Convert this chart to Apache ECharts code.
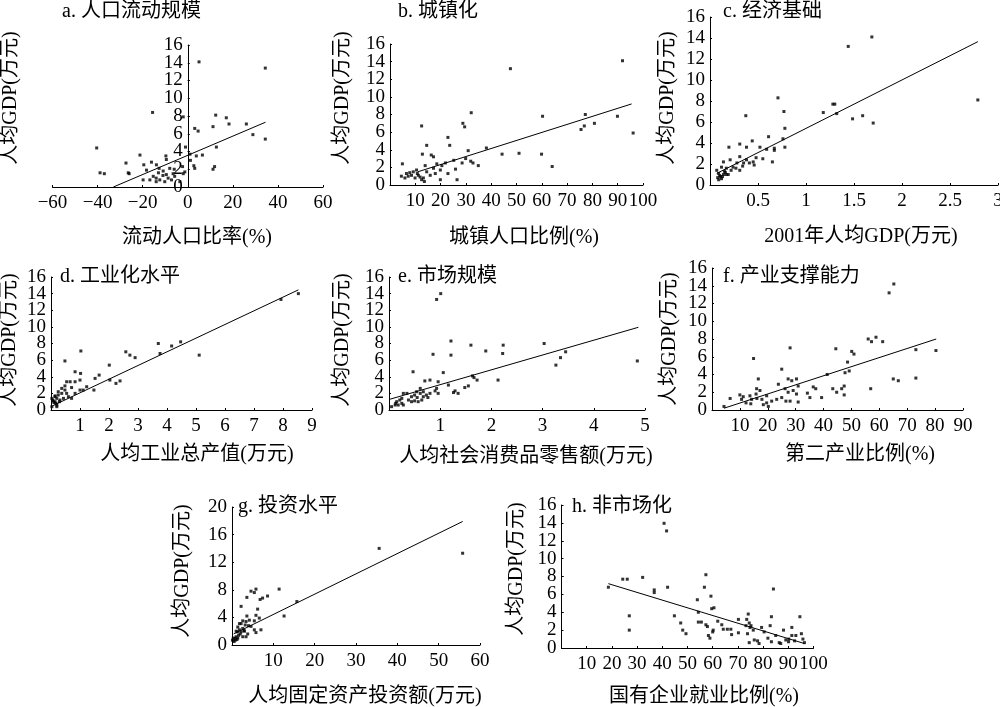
<!DOCTYPE html>
<html><head><meta charset="utf-8">
<script src="https://cdn.jsdelivr.net/npm/echarts@6/dist/echarts.min.js"></script>
<style>html,body{margin:0;padding:0;background:#fff}#c{width:1000px;height:707px}</style>
</head><body><div id="c"></div>
<script>
// ---------------- DATA ----------------
const yName = '人均GDP(万元)';
const titles = ['a. 人口流动规模','b. 城镇化','c. 经济基础','d. 工业化水平','e. 市场规模','f. 产业支撑能力','g. 投资水平','h. 非市场化'];
const xNames = ['流动人口比率(%)','城镇人口比例(%)','2001年人均GDP(万元)','人均工业总产值(万元)','人均社会消费品零售额(万元)','第二产业比例(%)','人均固定资产投资额(万元)','国有企业就业比例(%)'];

const ptsA = [[5,14.1],[34.4,13.4],[-15.6,8.4],[-2,7.9],[12.4,8.1],[17.1,7.8],[18.3,7.1],[11.2,6.8],[26,7.1],[3.1,6.6],[4.6,6.3],[28.9,5.9],[34.4,5.4],[-40.4,4.4],[12.7,4.5],[-1,4.5],[-21.2,3.6],[-9.7,3.5],[1,3.7],[3.8,3.5],[6.5,3.6],[1.2,3.0],[-27.4,2.7],[-16.1,2.8],[-19.5,2.5],[-13.9,2.5],[-9.5,3.1],[2.7,2.4],[3.1,2.1],[11.9,2.3],[11.2,2.0],[-2.3,2.3],[-1.3,1.7],[-38.9,1.6],[-37,1.5],[-26.4,1.6],[-26,1.5],[-18.3,1.9],[-12.7,2.1],[-10.9,1.8],[-8,2.1],[-6.5,1.5],[-15.3,1.2],[-14,1.0],[-19.8,0.8],[-16.8,0.8],[-12.4,0.8],[-10.2,0.6],[-8.7,1.0],[-7.2,0.8],[-5.8,1.2],[-11,1.3],[-9.5,1.4],[-3.5,0.6],[-2,1.5],[-14,0.6],[-13,1.6],[-6,2.0]];
const ptsB = [[91.9,14.1],[47.6,13.2],[32.1,8.2],[28.8,7.0],[29.5,6.6],[12.5,6.7],[60.3,7.8],[77.2,8.0],[76.8,6.7],[75.5,6.3],[80.8,7.0],[89.9,7.8],[96.1,5.9],[22.9,5.4],[23.6,4.5],[14.5,4.5],[38.1,4.2],[30.9,3.9],[44.3,3.5],[51,3.6],[59.9,3.5],[64.1,2.1],[12.8,3.5],[16.3,3.4],[17.2,3.2],[31.9,2.7],[32.8,2.5],[34.9,2.2],[28.5,2.5],[29.9,3.0],[25.2,2.8],[21.9,2.5],[18.5,2.4],[13.9,2.2],[19.9,1.7],[25.9,1.8],[22.9,1.3],[15.9,1.1],[19.9,0.6],[26.5,0.6],[4.9,2.4],[4.5,1.0],[6.5,1.3],[7.2,1.0],[8.5,1.1],[9.9,0.8],[11.2,1.1],[12.5,0.6],[9.2,1.5],[10.5,1.7],[11.9,0.9],[13.2,0.8],[13.6,0.4],[5.9,0.8],[14.5,1.5],[17.2,1.9],[17.9,1.3],[7.8,1.4],[10.8,1.3],[20.5,2.2]];
const ptsC = [[1.686,14.1],[1.44,13.2],[0.708,8.3],[2.79,8.1],[1.28,7.7],[1.3,7.7],[0.77,7.0],[1.18,6.9],[1.32,6.8],[0.373,6.6],[1.59,6.6],[1.485,6.3],[1.7,5.9],[0.78,5.4],[0.76,4.4],[0.61,4.6],[0.44,4.2],[0.31,3.9],[0.78,3.6],[0.197,3.6],[0.38,3.6],[0.52,3.6],[0.59,3.4],[0.67,3.5],[0.67,3.3],[0.31,2.7],[0.38,2.4],[0.45,2.2],[0.48,2.6],[0.55,2.5],[0.65,2.2],[0.46,1.9],[0.35,2.1],[0.28,2.1],[0.21,2.4],[0.14,2.2],[0.12,1.7],[0.17,1.6],[0.24,1.7],[0.31,1.4],[0.07,1.4],[0.09,1.1],[0.11,0.8],[0.14,1.0],[0.15,1.3],[0.17,1.0],[0.12,0.6],[0.09,0.5],[0.13,0.8],[0.19,1.0],[0.22,1.4],[0.27,1.6],[0.34,1.8],[0.41,2.1],[0.1,0.9],[0.16,1.2],[0.08,0.7]];
const ptsD = [[8.53,14.0],[7.93,13.3],[4.47,8.2],[4.16,7.7],[3.7,8.0],[3.76,6.8],[5.11,6.6],[1.03,7.1],[0.48,5.9],[2.58,7.0],[2.72,6.6],[2.9,6.3],[2.01,5.4],[0.83,4.6],[1.02,4.4],[1.66,4.2],[1.52,3.8],[2.03,3.6],[2.24,3.2],[2.38,3.5],[1.48,2.4],[1.23,2.8],[1.11,2.4],[1.0,2.4],[0.83,3.4],[0.66,3.4],[0.54,3.4],[0.71,2.7],[0.48,2.4],[0.37,2.6],[0.25,2.2],[0.54,2.0],[0.83,2.0],[0.71,1.4],[0.14,1.7],[0.2,1.4],[0.31,1.2],[0.14,1.0],[0.2,0.6],[0.03,0.4],[0.14,1.6],[0.25,1.8],[0.03,1.4],[0.17,0.8],[0.29,1.0],[0.43,1.4],[0.6,1.6],[0.37,2.0],[0.05,1.2],[0.2,0.4],[0.48,2.9],[1.0,3.6],[0.1,0.9],[0.08,1.1]];
const ptsE = [[1.01,14.0],[0.93,13.3],[1.21,8.3],[1.6,7.8],[2.23,7.8],[3.03,8.0],[0.86,6.7],[1.21,6.6],[1.89,7.1],[2.22,6.8],[3.45,7.0],[3.35,6.3],[3.26,5.4],[4.85,5.9],[0.47,4.6],[1.06,4.5],[1.63,4.1],[1.66,3.9],[1.72,3.6],[2.13,3.6],[0.8,3.6],[0.7,3.5],[0.96,3.4],[1.16,3.0],[1.55,2.9],[1.48,2.7],[1.29,2.3],[1.35,2.0],[1.26,2.1],[0.93,2.6],[0.9,2.3],[0.96,2.0],[0.61,2.6],[0.67,2.2],[0.73,1.8],[0.76,1.5],[0.54,2.2],[0.5,1.8],[0.44,1.6],[0.35,2.0],[0.28,2.0],[0.25,1.4],[0.38,1.2],[0.44,1.0],[0.5,1.1],[0.57,1.0],[0.64,1.2],[0.15,1.0],[0.12,0.6],[0.18,0.6],[0.25,0.8],[0.05,0.4],[0.21,1.2],[0.13,0.8],[0.28,0.6],[0.67,1.6],[0.55,1.5],[0.61,2.0],[0.8,2.0]];
const ptsF = [[65.2,14.2],[63.5,13.2],[56,8.0],[57.2,7.7],[58.8,8.2],[61.2,7.7],[28,7.0],[44.4,6.9],[73.1,6.8],[80.3,6.7],[50.1,6.6],[50.9,6.3],[14.9,5.8],[48.6,5.4],[49.2,4.4],[47.7,4.2],[25,4.6],[41.3,4.0],[16.6,3.5],[27.3,3.5],[30.3,3.5],[28.6,3.3],[65,3.5],[66.8,3.3],[73.1,3.6],[23.8,2.9],[30.9,2.7],[36.3,2.6],[37.2,2.4],[26.2,2.4],[16,2.4],[17.2,2.2],[27.3,2.0],[29.1,2.2],[30.3,1.8],[34.2,1.9],[43.3,2.4],[44.7,2.0],[46.5,2.4],[47.4,1.7],[56.9,2.4],[47.4,2.7],[39.3,1.4],[35.1,1.4],[30.9,0.9],[28,1.0],[26.5,1.0],[23.2,1.2],[21.4,1.0],[19.6,0.8],[18.4,0.6],[20.2,0.4],[17.9,1.2],[16.1,1.3],[14.2,1.2],[13.6,1.6],[11.2,1.5],[10,1.7],[10.6,1.2],[12.2,0.8],[6.5,1.3],[4.3,0.4],[15.8,1.8],[19.6,1.6],[25,1.4],[13.9,0.7]];
const ptsG = [[35.6,14.0],[55.8,13.3],[11.4,8.1],[15.7,6.3],[12.6,4.2],[5.8,8.1],[4.6,7.8],[5.4,7.6],[7.4,6.8],[8.6,7.1],[6.8,6.6],[3.6,6.9],[2.2,5.6],[6.2,5.2],[5.8,4.3],[6.6,3.9],[3.6,4.2],[5.4,3.5],[2.6,3.5],[3.4,3.4],[7.0,2.2],[4.6,2.7],[5.4,2.2],[5.8,1.8],[2.2,3.1],[1.4,2.6],[1.8,2.2],[2.6,2.4],[3.0,2.0],[2.2,1.9],[1.3,1.9],[1.6,1.4],[1.0,1.2],[0.3,1.0],[0.7,0.97],[0.1,0.7],[0.8,0.7],[1.4,1.0],[2.6,1.2],[3.4,1.2],[2.0,1.6],[3.8,1.6],[3.2,2.9],[4.0,2.8],[2.9,2.1],[1.0,2.0],[1.8,3.1],[4.2,3.6],[0.5,0.5],[1.2,0.8]];
const ptsH = [[40.7,13.95],[41.7,13.1],[18.6,6.8],[24.3,7.7],[26.1,7.7],[32.2,7.9],[36.8,6.5],[36.8,6.2],[42.1,6.8],[56.7,6.8],[57.3,8.2],[59.3,5.8],[53.9,5.4],[59.6,4.4],[60.5,4.5],[54.3,4.0],[26.9,3.6],[44.8,3.6],[26.9,2.0],[47.3,2.8],[48.1,2.0],[49.4,1.6],[54.3,2.9],[55.5,2.9],[57.3,2.6],[57.9,2.4],[58.3,1.4],[58.9,1.1],[60,1.8],[60.2,2.0],[62,3.0],[63.6,2.6],[64.2,2.1],[65.8,2.1],[67.5,1.5],[67.2,2.1],[70.2,3.2],[70.2,1.7],[73.5,3.2],[74.1,3.8],[74.5,2.8],[73.2,2.5],[75.2,2.5],[73.8,1.6],[74.8,2.3],[76.1,2.0],[74.5,0.6],[76.5,0.9],[77.8,0.8],[78.4,0.5],[79.4,2.3],[80.4,1.8],[82.8,2.5],[83.3,3.5],[84.1,6.6],[81.9,1.1],[83.3,0.7],[85,1.4],[86.4,0.6],[88.1,2.0],[89,0.9],[90.1,0.7],[91.4,2.3],[91.4,1.4],[93,1.4],[94.6,3.5],[95.2,1.6],[95.8,1.0],[96.4,0.6],[92.5,0.8],[87,0.5],[90.2,1.0]];

const fitA = [[-33,0],[34.5,7.3]];
const fitB = [[11,1.5],[95.5,9.2]];
const fitC = [[0.07,1.1],[2.79,13.65]];
const fitD = [[0.05,0.5],[8.53,14.45]];
const fitE = [[0.02,1.3],[4.87,9.95]];
const fitF = [[4.3,0.2],[80.4,8.0]];
const fitG = [[0.4,1.6],[55.8,17.9]];
const fitH = [[18.6,7.2],[96.4,0.5]];

const xMins = [-60,0,0,0,0,0,0,0];
const xMaxs = [60,100,3,9,5,90,60,100];
const xSteps = [20,10,0.5,1,1,10,10,10];
const yMaxs = [16,16,16,16,16,16,20,16];
const ySteps = [2,2,2,2,2,2,4,2];

// ---------------- LAYOUT ----------------
const FONT = "'Liberation Serif','Noto Sans CJK SC',serif";
const grids = [
  {left:52.5, top:45, width:270.5, height:142},
  {left:390, top:44, width:253, height:141},
  {left:710, top:17, width:288, height:168},
  {left:51, top:277, width:261, height:133},
  {left:389, top:277, width:256, height:133},
  {left:712, top:268, width:251, height:142},
  {left:232, top:507, width:248, height:138},
  {left:561.5, top:505, width:252, height:143}
];
const titlePos = [[62,12],[398,12],[723,12],[60,277],[398,277],[723,277],[238,507],[572,507]];
const yNamePos = [[11,98],[343,98],[668,98],[10,340],[343,340],[670,339],[183,571],[517,569]];
const xNamePos = [[197,238],[524,238],[861,237],[197,455],[526,457],[860,455],[365,697],[704,697]];

const pts = [ptsA,ptsB,ptsC,ptsD,ptsE,ptsF,ptsG,ptsH];
const fits = [fitA,fitB,fitC,fitD,fitE,fitF,fitG,fitH];

const labelStyle = {color:'#000', fontSize:19, fontFamily:FONT, margin:5};
const option = {animation:false, backgroundColor:'#fff', grid:[], xAxis:[], yAxis:[], series:[], graphic:[]};
for (let i=0;i<8;i++){
  option.grid.push(Object.assign({outerBoundsMode:'none', containLabel:false}, grids[i]));
  option.xAxis.push({gridIndex:i, type:'value', min:xMins[i], max:xMaxs[i], interval:xSteps[i],
    axisLine:{onZero:true, lineStyle:{color:'#000', width:1}},
    axisTick:{show:true, inside:true, length:2, lineStyle:{color:'#000'}},
    splitLine:{show:false},
    axisLabel:{color:'#000', fontSize:19, fontFamily:FONT, margin:7, showMinLabel:true, showMaxLabel:true,
      formatter: v => (v===0 && i!==0) ? '' : String(v).replace('-','\u2212')}});
  const half = ySteps[i] === 2;
  // shift of the x = 0 line from the grid's left edge (panel a has its y axis in the middle)
  const zeroShift = xMins[i] < 0 ? (0 - xMins[i]) / (xMaxs[i] - xMins[i]) * grids[i].width : 0;
  // main y axis: every other tick label (avoids automatic overlap hiding)
  option.yAxis.push({gridIndex:i, type:'value', position:'left', offset:-zeroShift, min:0, max:yMaxs[i], interval: half ? 4 : ySteps[i],
    axisLine:{show:true, onZero:false, lineStyle:{color:'#000', width:1}},
    axisTick:{show:true, inside:true, length:2, lineStyle:{color:'#000'}},
    splitLine:{show:false},
    axisLabel:Object.assign({showMinLabel:true, showMaxLabel:true}, labelStyle)});
  // companion axis carrying the in-between labels (2, 6, 10, 14)
  option.yAxis.push({gridIndex:i, type:'value', position:'left', offset:-zeroShift, min:0, max:yMaxs[i], interval:2, show: half,
    axisLine:{show:false, onZero:false},
    axisTick:{show:half, inside:true, length:2, lineStyle:{color:'#000'}},
    splitLine:{show:false},
    axisLabel:Object.assign({showMinLabel:false, showMaxLabel:false,
      formatter: v => (v % 4 === 0) ? '' : String(v)}, labelStyle)});
  option.series.push({type:'scatter', xAxisIndex:i, yAxisIndex:2*i, data:pts[i], symbol:'rect', symbolSize:3,
    itemStyle:{color:'#000'}, silent:true});
  option.series.push({type:'line', xAxisIndex:i, yAxisIndex:2*i, data:fits[i], showSymbol:false, symbol:'none',
    lineStyle:{color:'#000', width:1}, silent:true});
  option.graphic.push({type:'text', x:titlePos[i][0], y:titlePos[i][1],
    style:{text:titles[i], fontSize:20, fontFamily:FONT, fill:'#000', verticalAlign:'middle', align:'left'}});
  option.graphic.push({type:'text', x:yNamePos[i][0], y:yNamePos[i][1], rotation:Math.PI/2,
    style:{text:yName, fontSize:20, fontFamily:FONT, fill:'#000', verticalAlign:'middle', align:'center'}});
  option.graphic.push({type:'text', x:xNamePos[i][0], y:xNamePos[i][1],
    style:{text:xNames[i], fontSize:20, fontFamily:FONT, fill:'#000', verticalAlign:'middle', align:'center'}});
}
const chart = echarts.init(document.getElementById('c'), null, {renderer:'canvas'});
chart.setOption(option);
</script>
</body></html>
